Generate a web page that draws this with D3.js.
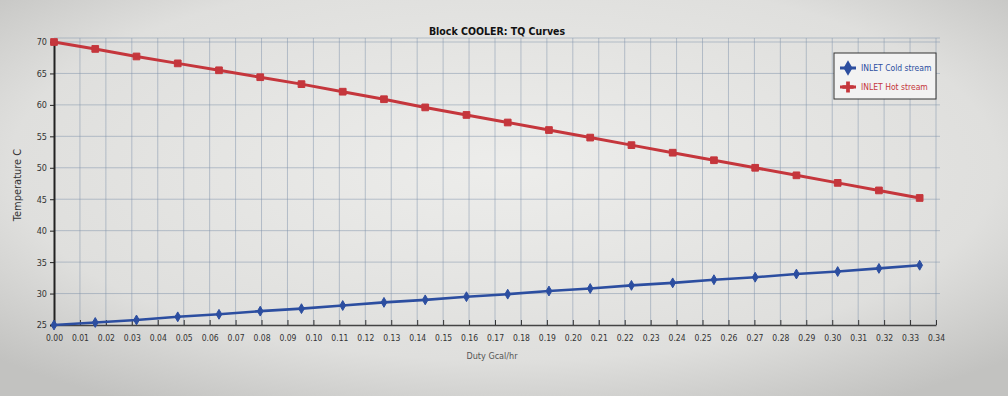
<!DOCTYPE html>
<html>
<head>
<meta charset="utf-8">
<script src="https://cdnjs.cloudflare.com/ajax/libs/d3/7.8.5/d3.min.js"></script>
<style>
  html, body { margin:0; padding:0; background:#d6d6d6; }
  svg { display:block; }
  .tick text { font-family:"Liberation Sans Narrow","DejaVu Sans Condensed",sans-serif; fill:#333; }
  .grid line { stroke:#7f93ab; stroke-opacity:0.5; stroke-width:1; }
</style>
</head>
<body>
<svg width="1008" height="396"></svg>
<script>
// duty (Gcal/hr) at each marker
var duty = [0.0000, 0.0159, 0.0318, 0.0477, 0.0636, 0.0795, 0.0954, 0.1113, 0.1272, 0.1431, 0.1590,
            0.1749, 0.1908, 0.2067, 0.2226, 0.2385, 0.2544, 0.2703, 0.2862, 0.3021, 0.3180, 0.3337];
var hotStream = [70.0, 68.9, 67.7, 66.6, 65.5, 64.4, 63.3, 62.1, 60.9, 59.6, 58.4,
                 57.2, 56.0, 54.8, 53.6, 52.4, 51.2, 50.0, 48.8, 47.6, 46.4, 45.2];
var coldStream = [25.0, 25.4, 25.8, 26.3, 26.7, 27.2, 27.6, 28.1, 28.6, 29.0, 29.5,
                  29.9, 30.4, 30.8, 31.3, 31.7, 32.2, 32.6, 33.1, 33.5, 34.0, 34.5];
var xTicks = [0.00, 0.01, 0.02, 0.03, 0.04, 0.05, 0.06, 0.07, 0.08, 0.09, 0.10, 0.11, 0.12,
              0.13, 0.14, 0.15, 0.16, 0.17, 0.18, 0.19, 0.20, 0.21, 0.22, 0.23, 0.24, 0.25,
              0.26, 0.27, 0.28, 0.29, 0.30, 0.31, 0.32, 0.33, 0.34];
var yTicks = [25, 30, 35, 40, 45, 50, 55, 60, 65, 70];
var seriesNames = ["INLET Cold stream", "INLET Hot stream"];

var svg = d3.select("svg");

// photo-of-a-screen background
var defs = svg.append("defs");
var rg = defs.append("radialGradient").attr("id", "bg").attr("cx", "50%").attr("cy", "42%").attr("r", "70%");
rg.append("stop").attr("offset", "0%").attr("stop-color", "#ededeb");
rg.append("stop").attr("offset", "70%").attr("stop-color", "#dfdfdd");
rg.append("stop").attr("offset", "100%").attr("stop-color", "#c2c2c0");
svg.append("rect").attr("width", 1008).attr("height", 396).attr("fill", "url(#bg)");

var x = d3.scaleLinear().domain([0, 0.34]).range([54, 936]);
var y = d3.scaleLinear().domain([25, 70]).range([325, 42]);

// grid
svg.append("g").attr("class", "grid")
  .selectAll("line").data(xTicks.slice(1)).enter().append("line")
  .attr("x1", d => x(d)).attr("x2", d => x(d))
  .attr("y1", 38).attr("y2", 325);
svg.append("g").attr("class", "grid")
  .selectAll("line").data(yTicks.slice(1)).enter().append("line")
  .attr("x1", 54).attr("x2", 940)
  .attr("y1", d => y(d)).attr("y2", d => y(d));
svg.append("line").attr("x1", 54).attr("x2", 940).attr("y1", 38).attr("y2", 38)
  .attr("stroke", "#7f93ab").attr("stroke-opacity", 0.5);

// axes
var xAxis = svg.append("g").attr("transform", "translate(0,325)")
  .call(d3.axisBottom(x).tickValues(xTicks).tickFormat(d3.format(".2f")).tickSizeInner(-5).tickSizeOuter(0).tickPadding(10));
xAxis.selectAll("text").attr("font-size", 8.5);
xAxis.select(".domain").attr("stroke", "#444").attr("stroke-width", 1.5);
xAxis.selectAll(".tick line").attr("stroke", "#333");

var yAxis = svg.append("g").attr("transform", "translate(54,0)")
  .call(d3.axisLeft(y).tickValues(yTicks).tickSize(4).tickPadding(3));
yAxis.selectAll("text").attr("font-size", 9);
yAxis.select(".domain").attr("stroke", "#222").attr("stroke-width", 2);
yAxis.selectAll(".tick line").attr("stroke", "#222");

// titles
svg.append("text").attr("x", 497).attr("y", 35).attr("text-anchor", "middle")
  .attr("font-family", "'Liberation Sans Narrow','DejaVu Sans Condensed',sans-serif")
  .attr("font-weight", "bold").attr("font-size", 10.5).attr("fill", "#111")
  .text("Block COOLER: TQ Curves");
svg.append("text").attr("transform", "translate(21,185) rotate(-90)").attr("text-anchor", "middle")
  .attr("font-family", "'Liberation Sans Narrow','DejaVu Sans Condensed',sans-serif")
  .attr("font-size", 11).attr("fill", "#333")
  .text("Temperature C");
svg.append("text").attr("x", 492).attr("y", 359).attr("text-anchor", "middle")
  .attr("font-family", "'Liberation Sans Narrow','DejaVu Sans Condensed',sans-serif")
  .attr("font-size", 9).attr("fill", "#555")
  .text("Duty Gcal/hr");

// series
var series = [
  { name: seriesNames[0], values: coldStream, color: "#2c4ea0", symbol: d3.symbolDiamond, size: 28, width: 2.6 },
  { name: seriesNames[1], values: hotStream, color: "#c5363c", symbol: d3.symbolSquare, size: 45, width: 3 }
];
var line = d3.line().x(d => x(d[0])).y(d => y(d[1]));

series.forEach(function(s) {
  var pts = duty.map((d, i) => [d, s.values[i]]);
  svg.append("path").datum(pts).attr("d", line)
    .attr("fill", "none").attr("stroke", s.color).attr("stroke-width", s.width);
  svg.append("g").selectAll("path").data(pts).enter().append("path")
    .attr("transform", d => "translate(" + x(d[0]) + "," + y(d[1]) + ")")
    .attr("d", d3.symbol().type(s.symbol).size(s.size))
    .attr("fill", s.color).attr("stroke", s.color).attr("stroke-width", 1);
});

// legend
var lg = svg.append("g").attr("transform", "translate(834,53)");
lg.append("rect").attr("width", 102).attr("height", 46)
  .attr("fill", "#f2f2f2").attr("stroke", "#333").attr("stroke-width", 1);
var legendSymbols = [d3.symbolDiamond, d3.symbolCross];
series.forEach(function(s, i) {
  var row = lg.append("g").attr("transform", "translate(0," + (15 + i * 19) + ")");
  row.append("line").attr("x1", 6).attr("x2", 22).attr("stroke", s.color).attr("stroke-width", 3);
  row.append("path").attr("transform", "translate(14,0)")
    .attr("d", d3.symbol().type(legendSymbols[i]).size(70)).attr("fill", s.color);
  row.append("text").attr("x", 27).attr("y", 3)
    .attr("font-family", "'Liberation Sans Narrow','DejaVu Sans Condensed',sans-serif")
    .attr("font-size", 8.5).attr("fill", s.color).text(s.name);
});
</script>
</body>
</html>
